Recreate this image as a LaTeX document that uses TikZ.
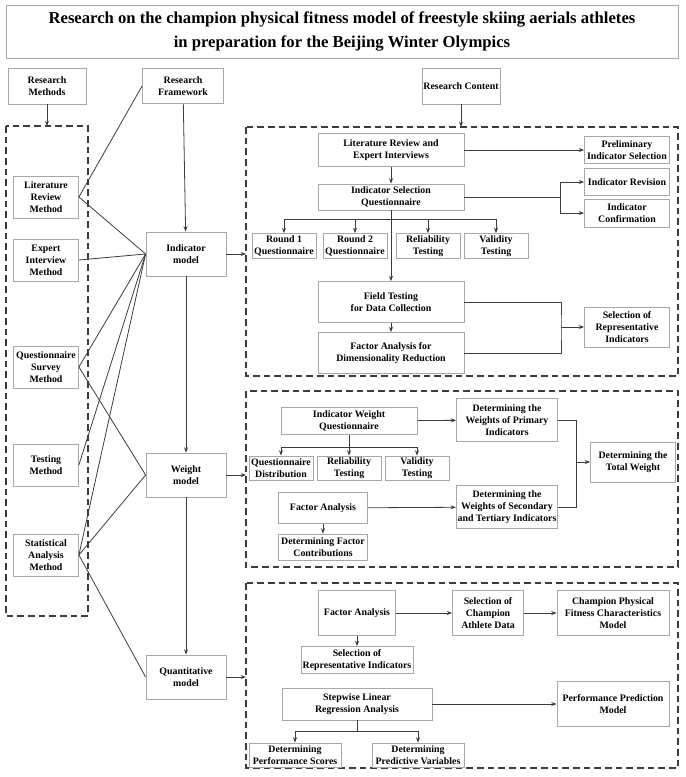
\documentclass[tikz,border=0pt]{standalone}
\usepackage{fontspec}
\setmainfont{Liberation Serif}
\usetikzlibrary{arrows.meta,positioning,calc}

\definecolor{lineclr}{HTML}{3C3C3C}
\definecolor{boxclr}{HTML}{A8A8A8}

\begin{document}
\begin{tikzpicture}[x=0.75pt,y=-0.75pt,
    box/.style 2 args={draw=boxclr, semithick, fill=white, align=center, inner sep=1pt,
      font=\fontsize{7.4}{9}\selectfont\bfseries,
      minimum width=#1*0.75pt, minimum height=#2*0.75pt},
    frame/.style={draw=lineclr, thick, dash pattern=on 5pt off 3pt},
    arr/.style={draw=lineclr, semithick, -{Stealth[length=4pt,width=3pt]}},
    lnk/.style={draw=lineclr, semithick}]
    \useasboundingbox (0,0) rectangle (685,777);

    % Title
    \node[draw=boxclr, semithick, minimum width=672*0.75pt, minimum height=53*0.75pt, align=center,
      font=\fontsize{12.5}{18.5}\selectfont\bfseries] (title) at (342,31.5)
      {Research on the champion physical fitness model of freestyle skiing aerials athletes\\
       in preparation for the Beijing Winter Olympics};

    % Headers
    \node[box={78}{36}] (methods) at (47,86) {Research\\Methods};
    \node[box={81}{35}] (frame) at (183,86) {Research\\Framework};
    \node[box={78}{36}] (content) at (461,86) {Research Content};

    % Dashed frames
    \draw[frame] (6,126) rectangle (88,616);
    \draw[frame] (246,127) rectangle (678,376);
    \draw[frame] (246,391) rectangle (678,567);
    \draw[frame] (246,583) rectangle (678,768);
    \coordinate (mtop) at (47,126);
    \coordinate (ctop) at (461,127);
    \coordinate (in1) at (246,254);
    \coordinate (in2) at (246,475);
    \coordinate (in3) at (246,677);

    % Methods
    \node[box={65}{42}] (lit) at (46,197) {Literature\\Review\\Method};
    \node[box={65}{42}] (expert) at (46,260) {Expert\\Interview\\Method};
    \node[box={65}{42}] (survey) at (46,367) {Questionnaire\\Survey\\Method};
    \node[box={65}{42}] (testing) at (46,465) {Testing\\Method};
    \node[box={65}{42}] (stats) at (46,555) {Statistical\\Analysis\\Method};

    % Models
    \node[box={80}{44}] (indm) at (186,254) {Indicator\\model};
    \node[box={80}{44}] (wtm) at (186,475) {Weight\\model};
    \node[box={80}{44}] (qm) at (186,677) {Quantitative\\model};

    \draw[arr] (methods) -- (mtop);
    \draw[arr] (content) -- (ctop);
    \draw[arr] (frame) -- (indm);
    \draw[arr] (indm) -- (wtm);
    \draw[arr] (wtm) -- (qm);
    \draw[arr] (indm) -- (in1);
    \draw[arr] (wtm) -- (in2);
    \draw[arr] (qm) -- (in3);

    \draw[lnk] (frame.west) -- (lit.east);
    \foreach \m in {lit,expert,survey,testing,stats}
      \draw[lnk] (\m.east) -- (indm.west);
    \draw[lnk] (survey.east) -- (wtm.west);
    \draw[lnk] (stats.east) -- (wtm.west);
    \draw[lnk] (stats.east) -- (qm.west);

    % Indicator model content
    \node[box={146}{33}] (litexp) at (391,150) {Literature Review and\\Expert Interviews};
    \node[box={146}{26}] (isq) at (391,197) {Indicator Selection\\Questionnaire};
    \node[box={85}{27}] (prelim) at (627,150) {Preliminary\\Indicator Selection};
    \node[box={85}{27}] (revise) at (627,182) {Indicator Revision};
    \node[box={85}{28}] (confirm) at (627,213) {Indicator\\Confirmation};
    \node[box={64}{25}] (round1) at (284,246) {Round 1\\Questionnaire};
    \node[box={64}{25}] (round2) at (355,246) {Round 2\\Questionnaire};
    \node[box={64}{25}] (rel1) at (428,246) {Reliability\\Testing};
    \node[box={64}{25}] (val1) at (496,246) {Validity\\Testing};
    \node[box={146}{41}] (field) at (391,302) {Field Testing\\for Data Collection};
    \node[box={146}{41}] (fadr) at (391,353) {Factor Analysis for\\Dimensionality Reduction};
    \node[box={85}{40}] (rep1) at (627,327) {Selection of\\Representative\\Indicators};

    \draw[arr] (litexp) -- (isq);
    \draw[arr] (litexp) -- (prelim);
    \draw[lnk] (isq.east) -- (560,197);
    \draw[arr] (560,197) |- (revise.west);
    \draw[arr] (560,197) |- (confirm.west);
    \draw[arr] (isq) -- (field);
    \draw[lnk] (round1.north |- 0,219) -- (val1.north |- 0,219);
    \foreach \b in {round1,round2,rel1,val1}
      \draw[arr] (\b.north |- 0,219) -- (\b.north);
    \draw[arr] (field) -- (fadr);
    \draw[lnk] (field.east) -| (561,327) |- (fadr.east);
    \draw[arr] (561,327) -- (rep1.west);

    % Weight model content
    \node[box={136}{27}] (iwq) at (349,421) {Indicator Weight\\Questionnaire};
    \node[box={101}{43}] (dwp) at (507,420) {Determining the\\Weights of Primary\\Indicators};
    \node[box={85}{40}] (total) at (633,462) {Determining the\\Total Weight};
    \node[box={64}{24}] (dist) at (281,468) {Questionnaire\\Distribution};
    \node[box={64}{24}] (rel2) at (349,468) {Reliability\\Testing};
    \node[box={64}{24}] (val2) at (417,468) {Validity\\Testing};
    \node[box={89}{31}] (fa2) at (323,508) {Factor Analysis};
    \node[box={101}{43}] (dws) at (507,507) {Determining the\\Weights of Secondary\\and Tertiary Indicators};
    \node[box={89}{26}] (dfc) at (323,547) {Determining Factor\\Contributions};

    \draw[arr] (iwq) -- (dwp);
    \draw[lnk] (dist.north |- 0,447) -- (val2.north |- 0,447);
    \draw[lnk] (iwq.south) -- (iwq.south |- 0,447);
    \foreach \b in {dist,rel2,val2}
      \draw[arr] (\b.north |- 0,447) -- (\b.north);
    \draw[arr] (fa2) -- (dws);
    \draw[arr] (fa2) -- (dfc);
    \draw[lnk] (dwp.east) -| (576,462) |- (dws.east);
    \draw[arr] (576,462) -- (total.west);

    % Quantitative model content
    \node[box={77}{45}] (fa3) at (357,613) {Factor Analysis};
    \node[box={71}{45}] (champ) at (488,613) {Selection of\\Champion\\Athlete Data};
    \node[box={112}{45}] (cpf) at (613,613) {Champion Physical\\Fitness Characteristics\\Model};
    \node[box={112}{27}] (rep3) at (357,660) {Selection of\\Representative Indicators};
    \node[box={150}{32}] (swr) at (357,704) {Stepwise Linear\\Regression Analysis};
    \node[box={112}{45}] (ppm) at (613,704) {Performance Prediction\\Model};
    \node[box={92}{24}] (dps) at (295,755) {Determining\\Performance Scores};
    \node[box={92}{24}] (dpv) at (418,755) {Determining\\Predictive Variables};

    \draw[arr] (fa3) -- (champ);
    \draw[arr] (champ) -- (cpf);
    \draw[arr] (fa3) -- (rep3);
    \draw[arr] (swr) -- (ppm);
    \draw[lnk] (swr.south) -- (swr.south |- 0,731);
    \draw[lnk] (dps.north |- 0,731) -- (dpv.north |- 0,731);
    \foreach \b in {dps,dpv}
      \draw[arr] (\b.north |- 0,731) -- (\b.north);
\end{tikzpicture}
\end{document}
